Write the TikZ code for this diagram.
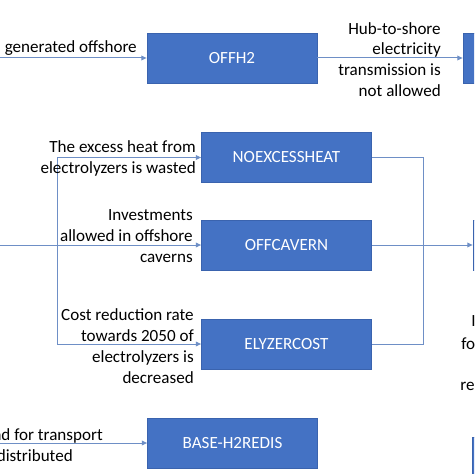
\documentclass[tikz,border=0pt]{standalone}
\usepackage{fontspec}
\setmainfont{Carlito}
\usetikzlibrary{arrows.meta}
\definecolor{boxblue}{HTML}{4472C4}
\definecolor{boxedge}{HTML}{3A63AE}
\definecolor{linec}{HTML}{6E8FC6}
\newcommand{\lfont}{\fontsize{12.8}{15.6}\selectfont}
\begin{document}
\begin{tikzpicture}[x=0.75pt,y=-0.75pt,
  box/.style={fill=boxblue,draw=boxedge,line width=0.6pt,text=white,font=\lfont,
    minimum width=127.5pt,minimum height=37.5pt,inner sep=0pt},
  conn/.style={draw=linec,line width=0.75pt},
  arr/.style={conn,-{Triangle[length=4pt,width=3.6pt]}},
  lab/.style={font=\lfont,align=right,inner sep=0pt,anchor=north east,execute at begin node=\strut},
  labl/.style={font=\lfont,align=left,inner sep=0pt,anchor=north west,execute at begin node=\strut}]
\useasboundingbox (0,0) rectangle (474,474);
\clip (0,0) rectangle (474,474);
\fill[white] (0,0) rectangle (474,474);
% boxes
\node[box] (offh2) at (232,58) {OFFH2};
\node[box] (noex) at (286.5,157.5) {NOEXCESSHEAT};
\node[box] (offc) at (286.5,245) {OFFCAVERN};
\node[box] (elyz) at (286.5,344) {ELYZERCOST};
\node[box] (base) at (232.5,443) {BASE-H2REDIS};
\node[box] (rtop) at (548,58) {};
\node[box] (rmid) at (558,245) {};
\node[box] (rbot) at (557,462) {};
% free ends and junctions
\coordinate (in1) at (-5,58);
\coordinate (in2) at (-5,245);
\coordinate (in3) at (-5,443);
\coordinate (jl) at (57,245);
\coordinate (jr) at (423,245);
% connectors
\draw[arr] (in1) -- (offh2.west);
\draw[arr] (offh2.east) -- (rtop.west);
\draw[arr] (in2) -- (offc.west);
\draw[arr] (jl) |- (noex.west);
\draw[arr] (jl) |- (elyz.west);
\draw[conn] (noex.east) -| (jr);
\draw[conn] (elyz.east) -| (jr);
\draw[arr] (offc.east) -- (rmid.west);
\draw[arr] (in3) -- (base.west);
% labels
\node[lab] (l1) at (137,38) {generated offshore};
\node[lab] (l2) at (441,22) {Hub-to-shore\\electricity\\transmission is\\not allowed};
\node[lab] (l3) at (196,140.5) {The excess heat from\\electrolyzers is wasted};
\node[lab] (l4) at (193,209.5) {Investments\\allowed in offshore\\caverns};
\node[lab] (l5) at (194,308.5) {Cost reduction rate\\towards 2050 of\\electrolyzers is\\decreased};
\node[lab] (l6) at (103,425.5) {ad for transport};
\node[lab] (l7) at (73,447) {distributed};
\node[labl] (r1) at (471,312) {I};
\node[labl] (r2) at (461,334.5) {fo};
\node[labl] (r3) at (460,375.5) {re};
\end{tikzpicture}
\end{document}
